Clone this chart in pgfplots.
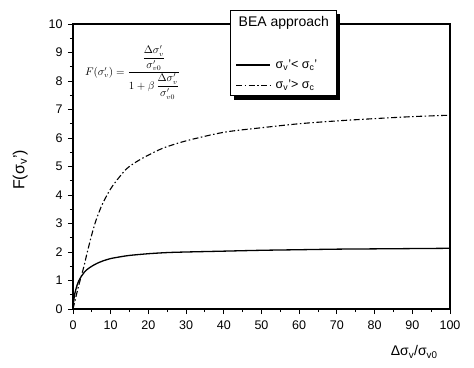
\documentclass[border=0pt]{standalone}
\usepackage{pgfplots}
\pgfplotsset{compat=1.18}
\pgfplotsset{/pgf/number format/assume math mode=true}
\usepackage{amsmath}
\usepackage{fontspec}
\setmainfont{Liberation Sans}
\begin{document}
\begin{tikzpicture}
\begin{axis}[
  scale only axis, clip=false,
  width=377pt, height=285pt,
  xmin=0, xmax=100, ymin=0, ymax=10,
  xtick={0,10,...,100}, ytick={0,1,...,10},
  minor x tick num=1, minor y tick num=1,
  tick align=outside,
  xtick pos=bottom, ytick pos=left,
  major tick length=5pt, minor tick length=3pt,
  axis line style={line width=1.1pt},
  every tick/.style={line width=0.9pt, black},
  tick label style={font=\fontsize{12.5}{14}\selectfont},
  xticklabel style={yshift=-3pt},
  yticklabel style={xshift=-2pt},
  xlabel={Δσ\textsubscript{v}/σ\textsubscript{v0}},
  xlabel style={font=\fontsize{14}{16}\selectfont, at={(axis description cs:0.905,-0.151)}, anchor=center},
  ylabel={F(σ\textsubscript{v}')},
  ylabel style={font=\fontsize{16}{18}\selectfont, at={(axis description cs:-0.14,0.488)}, anchor=center, rotate=0},
  legend image code/.code={\draw[#1] (0pt,0pt) -- (34pt,0pt);},
  legend cell align=left,
  legend style={name=L, at={(axis description cs:0.4164,1.049)}, anchor=north west,
    draw=black, line width=0.8pt, fill=white,
    font=\fontsize{12.5}{14}\selectfont,
    row sep=6pt, inner xsep=5pt, inner ysep=3.5pt,
    /tikz/every odd column/.append style={column sep=3pt}},
]
\addlegendimage{empty legend}
\addlegendentry{\hspace*{-37pt}\fontsize{14}{15}\selectfont BEA approach}
\addlegendimage{empty legend}
\addlegendentry{\rule{0pt}{11pt}}
\addplot[black, line width=1.3pt, smooth] coordinates {
(0,0) (0.2,0.3) (0.5,0.55) (1,0.8) (1.5,0.98) (2,1.1) (2.5,1.2) (3,1.29) (3.6,1.37)
(4.5,1.46) (5.5,1.54) (6.5,1.61) (8,1.69) (10,1.77) (12.5,1.83) (15,1.88) (20,1.94)
(25,1.98) (30,2.0) (40,2.03) (50,2.06) (60,2.08) (70,2.1) (80,2.11) (90,2.12) (100,2.13)};
\addlegendentry{σ\textsubscript{v}'< σ\textsubscript{c}'}
\addplot[black, line width=1.1pt, smooth, dash pattern=on 6pt off 2.5pt on 1.5pt off 2.5pt] coordinates {
(0,0) (1,0.55) (1.5,0.82) (2.3,1.2) (3,1.55) (3.8,2.0) (5,2.62) (6,3.07) (7,3.43)
(8,3.74) (10,4.22) (12,4.58) (14.3,4.93) (17,5.18) (20,5.4) (24,5.65) (30,5.9)
(40,6.2) (50,6.36) (60,6.5) (70,6.6) (80,6.68) (90,6.75) (100,6.8)};
\addlegendentry{σ\textsubscript{v}'> σ\textsubscript{c}}
\node[font=\fontsize{10.5}{12}\selectfont] at (axis cs:15.8,8.3)
  {$F(\sigma_v')=\dfrac{\dfrac{\Delta\sigma_v'}{\sigma_{v0}'}}{1+\beta\,\dfrac{\Delta\sigma_v'}{\sigma_{v0}'}}$};
\end{axis}
\fill[black] ([shift={(0pt,-4pt)}]L.north east) rectangle ([shift={(4pt,-4pt)}]L.south east);
\fill[black] ([shift={(4pt,0pt)}]L.south west) rectangle ([shift={(4pt,-4pt)}]L.south east);
\path ([shift={(-73pt,-58pt)}]current axis.south west) rectangle ([shift={(24pt,24pt)}]current axis.north east);
\end{tikzpicture}
\end{document}
